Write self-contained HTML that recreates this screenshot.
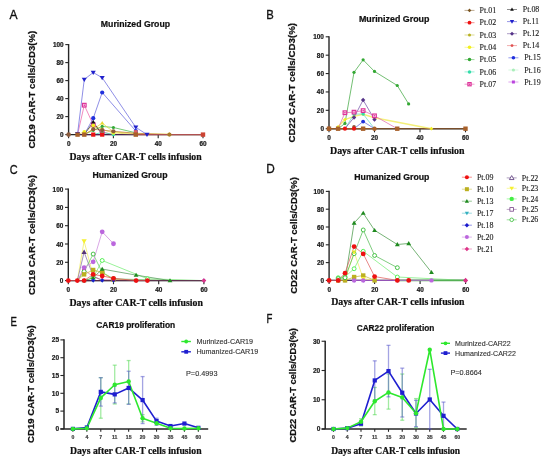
<!DOCTYPE html>
<html><head><meta charset="utf-8"><style>
html,body{margin:0;padding:0;background:#fff;}
svg{display:block;will-change:transform;}
</style></head><body>
<svg width="550" height="464" viewBox="0 0 550 464">
<rect width="550" height="464" fill="#fff"/>
<text transform="translate(9.47 18.80) scale(0.936 1)" font-family='"Liberation Sans", sans-serif' font-size="12.9" fill="#111" stroke="#111" stroke-width="0.32">A</text>
<text x="100.81" y="27.40" font-family='"Liberation Sans", sans-serif' font-size="8.73" font-weight="bold" text-anchor="start" fill="#111" stroke="#111" stroke-width="0.22">Murinized Group</text>
<text x="35.25" y="148.58" font-family='"Liberation Sans", sans-serif' font-size="9.606" font-weight="bold" text-anchor="start" fill="#111" stroke="#111" stroke-width="0.22" transform="rotate(-90 35.24863822805578 148.58424938474158)">CD19 CAR-T cells/CD3(%)</text>
<text x="69.53" y="159.75" font-family='"Liberation Serif", serif' font-size="9.742" font-weight="bold" text-anchor="start" fill="#111" stroke="#111" stroke-width="0.22">Days after CAR-T cells infusion</text>
<line x1="68.60" y1="44.00" x2="68.60" y2="135.20" stroke="#262626" stroke-width="1.4"/>
<line x1="68.00" y1="134.60" x2="203.30" y2="134.60" stroke="#262626" stroke-width="1.4"/>
<line x1="65.30" y1="134.60" x2="68.60" y2="134.60" stroke="#262626" stroke-width="1.1"/>
<text x="63.55" y="137.10" font-family='"Liberation Sans", sans-serif' font-size="6.4" font-weight="bold" text-anchor="end" fill="#1a1a1a" stroke="#1a1a1a" stroke-width="0.22">0</text>
<line x1="65.30" y1="116.60" x2="68.60" y2="116.60" stroke="#262626" stroke-width="1.1"/>
<text x="63.55" y="119.10" font-family='"Liberation Sans", sans-serif' font-size="6.4" font-weight="bold" text-anchor="end" fill="#1a1a1a" stroke="#1a1a1a" stroke-width="0.22">20</text>
<line x1="65.30" y1="98.60" x2="68.60" y2="98.60" stroke="#262626" stroke-width="1.1"/>
<text x="63.55" y="101.10" font-family='"Liberation Sans", sans-serif' font-size="6.4" font-weight="bold" text-anchor="end" fill="#1a1a1a" stroke="#1a1a1a" stroke-width="0.22">40</text>
<line x1="65.30" y1="80.60" x2="68.60" y2="80.60" stroke="#262626" stroke-width="1.1"/>
<text x="63.55" y="83.10" font-family='"Liberation Sans", sans-serif' font-size="6.4" font-weight="bold" text-anchor="end" fill="#1a1a1a" stroke="#1a1a1a" stroke-width="0.22">60</text>
<line x1="65.30" y1="62.60" x2="68.60" y2="62.60" stroke="#262626" stroke-width="1.1"/>
<text x="63.55" y="65.10" font-family='"Liberation Sans", sans-serif' font-size="6.4" font-weight="bold" text-anchor="end" fill="#1a1a1a" stroke="#1a1a1a" stroke-width="0.22">80</text>
<line x1="65.30" y1="44.60" x2="68.60" y2="44.60" stroke="#262626" stroke-width="1.1"/>
<text x="63.55" y="47.10" font-family='"Liberation Sans", sans-serif' font-size="6.4" font-weight="bold" text-anchor="end" fill="#1a1a1a" stroke="#1a1a1a" stroke-width="0.22">100</text>
<line x1="68.60" y1="134.60" x2="68.60" y2="138.20" stroke="#262626" stroke-width="1.1"/>
<text x="68.70" y="146.10" font-family='"Liberation Sans", sans-serif' font-size="6.4" font-weight="bold" text-anchor="middle" fill="#1a1a1a" stroke="#1a1a1a" stroke-width="0.22">0</text>
<line x1="113.40" y1="134.60" x2="113.40" y2="138.20" stroke="#262626" stroke-width="1.1"/>
<text x="113.50" y="146.10" font-family='"Liberation Sans", sans-serif' font-size="6.4" font-weight="bold" text-anchor="middle" fill="#1a1a1a" stroke="#1a1a1a" stroke-width="0.22">20</text>
<line x1="158.20" y1="134.60" x2="158.20" y2="138.20" stroke="#262626" stroke-width="1.1"/>
<text x="158.30" y="146.10" font-family='"Liberation Sans", sans-serif' font-size="6.4" font-weight="bold" text-anchor="middle" fill="#1a1a1a" stroke="#1a1a1a" stroke-width="0.22">40</text>
<line x1="203.00" y1="134.60" x2="203.00" y2="138.20" stroke="#262626" stroke-width="1.1"/>
<text x="203.10" y="146.10" font-family='"Liberation Sans", sans-serif' font-size="6.4" font-weight="bold" text-anchor="middle" fill="#1a1a1a" stroke="#1a1a1a" stroke-width="0.22">60</text>
<polyline points="77.56,134.60 84.28,105.17 93.24,124.70 102.20,131.90 113.40,134.60" fill="none" stroke="#ee66aa" stroke-width="0.75" stroke-opacity="1.0" stroke-linejoin="round"/>
<polyline points="93.24,134.60 102.20,132.35 113.40,134.60" fill="none" stroke="#33ddaa" stroke-width="0.75" stroke-opacity="1.0" stroke-linejoin="round"/>
<polyline points="84.28,134.60 93.24,130.28 102.20,126.41 113.40,127.49 135.80,132.80" fill="none" stroke="#44bb44" stroke-width="0.75" stroke-opacity="1.0" stroke-linejoin="round"/>
<polyline points="77.56,134.60 84.28,131.90 93.24,125.33 102.20,129.56 113.40,132.80 135.80,134.60" fill="none" stroke="#e8d850" stroke-width="0.75" stroke-opacity="1.0" stroke-linejoin="round"/>
<polyline points="84.28,134.60 93.24,129.20 102.20,123.08 113.40,131.90 135.80,133.70 169.40,134.15" fill="none" stroke="#e8d830" stroke-width="0.75" stroke-opacity="1.0" stroke-linejoin="round"/>
<polyline points="84.28,134.60 93.24,129.20 102.20,130.10 113.40,131.27 135.80,133.25 169.40,134.60 203.00,134.60" fill="none" stroke="#c08040" stroke-width="0.75" stroke-opacity="1.0" stroke-linejoin="round"/>
<polyline points="84.28,134.60 93.24,122.00 102.20,134.60" fill="none" stroke="#333" stroke-width="0.75" stroke-opacity="1.0" stroke-linejoin="round"/>
<polyline points="84.28,134.60 93.24,118.22 102.20,92.48 135.80,131.00" fill="none" stroke="#6a6ade" stroke-width="0.75" stroke-opacity="1.0" stroke-linejoin="round"/>
<polyline points="77.56,133.70 84.28,79.43 93.24,72.50 102.20,77.72 135.80,127.31 147.00,134.60" fill="none" stroke="#6a6ade" stroke-width="0.75" stroke-opacity="1.0" stroke-linejoin="round"/>
<polyline points="93.24,134.60 102.20,134.60" fill="none" stroke="#552266" stroke-width="0.75" stroke-opacity="1.0" stroke-linejoin="round"/>
<polyline points="77.56,134.60 84.28,134.60 135.80,134.60" fill="none" stroke="#552266" stroke-width="0.75" stroke-opacity="1.0" stroke-linejoin="round"/>
<polyline points="135.80,134.60 169.40,134.60 203.00,134.60" fill="none" stroke="#b05050" stroke-width="1.1" stroke-opacity="1.0" stroke-linejoin="round"/>
<rect x="82.48" y="103.37" width="3.60" height="3.60" fill="#fff0f7" stroke="#dd3399" stroke-width="1.2"/>
<rect x="83.58" y="104.47" width="1.4" height="1.4" fill="#dd3399"/>
<rect x="91.44" y="122.90" width="3.60" height="3.60" fill="#fff0f7" stroke="#dd3399" stroke-width="1.2"/>
<rect x="92.54" y="124.00" width="1.4" height="1.4" fill="#dd3399"/>
<rect x="100.40" y="130.10" width="3.60" height="3.60" fill="#fff0f7" stroke="#dd3399" stroke-width="1.2"/>
<rect x="101.50" y="131.20" width="1.4" height="1.4" fill="#dd3399"/>
<circle cx="93.24" cy="134.60" r="1.70" fill="#33ddaa"/>
<circle cx="102.20" cy="132.35" r="1.70" fill="#33ddaa"/>
<circle cx="113.40" cy="134.60" r="1.70" fill="#33ddaa"/>
<circle cx="93.24" cy="130.28" r="1.60" fill="#33a833"/>
<circle cx="102.20" cy="126.41" r="1.60" fill="#33a833"/>
<circle cx="113.40" cy="127.49" r="1.60" fill="#33a833"/>
<circle cx="135.80" cy="132.80" r="1.60" fill="#33a833"/>
<circle cx="84.28" cy="131.90" r="1.90" fill="#f2f020"/>
<circle cx="93.24" cy="125.33" r="1.90" fill="#f2f020"/>
<circle cx="102.20" cy="129.56" r="1.90" fill="#f2f020"/>
<circle cx="113.40" cy="132.80" r="1.90" fill="#f2f020"/>
<polygon points="93.24,127.10 95.34,130.70 91.14,130.70" fill="#e8d830"/>
<polygon points="102.20,120.98 104.30,124.58 100.10,124.58" fill="#e8d830"/>
<polygon points="113.40,129.80 115.50,133.40 111.30,133.40" fill="#e8d830"/>
<polygon points="135.80,131.60 137.90,135.20 133.70,135.20" fill="#e8d830"/>
<polygon points="169.40,132.05 171.50,135.65 167.30,135.65" fill="#e8d830"/>
<circle cx="93.24" cy="129.20" r="2.10" fill="#8b5a3c"/>
<circle cx="102.20" cy="130.10" r="2.10" fill="#8b5a3c"/>
<circle cx="113.40" cy="131.27" r="2.10" fill="#8b5a3c"/>
<circle cx="135.80" cy="133.25" r="2.10" fill="#8b5a3c"/>
<polygon points="93.24,119.80 95.44,123.58 91.03,123.58" fill="#111111"/>
<circle cx="93.24" cy="118.22" r="2.10" fill="#2030dd"/>
<circle cx="102.20" cy="92.48" r="2.10" fill="#2030dd"/>
<circle cx="135.80" cy="131.00" r="2.10" fill="#2030dd"/>
<polygon points="77.56,136.22 80.08,131.90 75.04,131.90" fill="#2020cc"/>
<polygon points="84.28,81.95 86.80,77.63 81.76,77.63" fill="#2020cc"/>
<polygon points="93.24,75.02 95.76,70.70 90.72,70.70" fill="#2020cc"/>
<polygon points="102.20,80.24 104.72,75.92 99.68,75.92" fill="#2020cc"/>
<polygon points="135.80,129.83 138.32,125.51 133.28,125.51" fill="#2020cc"/>
<polygon points="147.00,137.12 149.52,132.80 144.48,132.80" fill="#2020cc"/>
<rect x="91.14" y="132.50" width="4.20" height="4.20" fill="#ee1111"/>
<rect x="100.10" y="132.50" width="4.20" height="4.20" fill="#ee1111"/>
<rect x="134.00" y="130.10" width="3.60" height="3.60" fill="#e06060"/>
<rect x="75.36" y="132.40" width="4.40" height="4.40" fill="#a8602a"/>
<rect x="82.08" y="132.40" width="4.40" height="4.40" fill="#a8602a"/>
<rect x="133.60" y="132.40" width="4.40" height="4.40" fill="#a8602a"/>
<circle cx="68.60" cy="134.60" r="2.30" fill="#8b5a3c"/>
<circle cx="169.40" cy="134.60" r="2.10" fill="#a87a2a"/>
<rect x="200.80" y="132.40" width="4.40" height="4.40" fill="#cc4433"/>
<text transform="translate(266.27 18.90) scale(0.873 1)" font-family='"Liberation Sans", sans-serif' font-size="12.9" fill="#111" stroke="#111" stroke-width="0.32">B</text>
<text x="358.90" y="22.10" font-family='"Liberation Sans", sans-serif' font-size="8.883" font-weight="bold" text-anchor="start" fill="#111" stroke="#111" stroke-width="0.22">Murinized Group</text>
<text x="295.00" y="142.49" font-family='"Liberation Sans", sans-serif' font-size="9.746" font-weight="bold" text-anchor="start" fill="#111" stroke="#111" stroke-width="0.22" transform="rotate(-90 294.99870385561934 142.4898277276456)">CD22 CAR-T cells/CD3(%)</text>
<text x="330.03" y="154.25" font-family='"Liberation Serif", serif' font-size="9.919" font-weight="bold" text-anchor="start" fill="#111" stroke="#111" stroke-width="0.22">Days after CAR-T cells infusion</text>
<line x1="329.00" y1="36.20" x2="329.00" y2="129.30" stroke="#262626" stroke-width="1.4"/>
<line x1="328.40" y1="128.70" x2="465.80" y2="128.70" stroke="#262626" stroke-width="1.4"/>
<line x1="325.70" y1="128.70" x2="329.00" y2="128.70" stroke="#262626" stroke-width="1.1"/>
<text x="323.95" y="131.20" font-family='"Liberation Sans", sans-serif' font-size="6.4" font-weight="bold" text-anchor="end" fill="#1a1a1a" stroke="#1a1a1a" stroke-width="0.22">0</text>
<line x1="325.70" y1="110.32" x2="329.00" y2="110.32" stroke="#262626" stroke-width="1.1"/>
<text x="323.95" y="112.82" font-family='"Liberation Sans", sans-serif' font-size="6.4" font-weight="bold" text-anchor="end" fill="#1a1a1a" stroke="#1a1a1a" stroke-width="0.22">20</text>
<line x1="325.70" y1="91.94" x2="329.00" y2="91.94" stroke="#262626" stroke-width="1.1"/>
<text x="323.95" y="94.44" font-family='"Liberation Sans", sans-serif' font-size="6.4" font-weight="bold" text-anchor="end" fill="#1a1a1a" stroke="#1a1a1a" stroke-width="0.22">40</text>
<line x1="325.70" y1="73.56" x2="329.00" y2="73.56" stroke="#262626" stroke-width="1.1"/>
<text x="323.95" y="76.06" font-family='"Liberation Sans", sans-serif' font-size="6.4" font-weight="bold" text-anchor="end" fill="#1a1a1a" stroke="#1a1a1a" stroke-width="0.22">60</text>
<line x1="325.70" y1="55.18" x2="329.00" y2="55.18" stroke="#262626" stroke-width="1.1"/>
<text x="323.95" y="57.68" font-family='"Liberation Sans", sans-serif' font-size="6.4" font-weight="bold" text-anchor="end" fill="#1a1a1a" stroke="#1a1a1a" stroke-width="0.22">80</text>
<line x1="325.70" y1="36.80" x2="329.00" y2="36.80" stroke="#262626" stroke-width="1.1"/>
<text x="323.95" y="39.30" font-family='"Liberation Sans", sans-serif' font-size="6.4" font-weight="bold" text-anchor="end" fill="#1a1a1a" stroke="#1a1a1a" stroke-width="0.22">100</text>
<line x1="329.00" y1="128.70" x2="329.00" y2="132.30" stroke="#262626" stroke-width="1.1"/>
<text x="329.10" y="140.20" font-family='"Liberation Sans", sans-serif' font-size="6.4" font-weight="bold" text-anchor="middle" fill="#1a1a1a" stroke="#1a1a1a" stroke-width="0.22">0</text>
<line x1="374.50" y1="128.70" x2="374.50" y2="132.30" stroke="#262626" stroke-width="1.1"/>
<text x="374.60" y="140.20" font-family='"Liberation Sans", sans-serif' font-size="6.4" font-weight="bold" text-anchor="middle" fill="#1a1a1a" stroke="#1a1a1a" stroke-width="0.22">20</text>
<line x1="420.00" y1="128.70" x2="420.00" y2="132.30" stroke="#262626" stroke-width="1.1"/>
<text x="420.10" y="140.20" font-family='"Liberation Sans", sans-serif' font-size="6.4" font-weight="bold" text-anchor="middle" fill="#1a1a1a" stroke="#1a1a1a" stroke-width="0.22">40</text>
<line x1="465.50" y1="128.70" x2="465.50" y2="132.30" stroke="#262626" stroke-width="1.1"/>
<text x="465.60" y="140.20" font-family='"Liberation Sans", sans-serif' font-size="6.4" font-weight="bold" text-anchor="middle" fill="#1a1a1a" stroke="#1a1a1a" stroke-width="0.22">60</text>
<polyline points="338.10,126.86 344.93,119.60 354.02,116.39 363.12,114.18 374.50,117.67 431.38,128.70" fill="none" stroke="#f4f07a" stroke-width="1.5" stroke-opacity="1.0" stroke-linejoin="round"/>
<polyline points="344.93,128.70 354.02,114.09 363.12,114.00 374.50,128.70" fill="none" stroke="#66ddcc" stroke-width="0.75" stroke-opacity="1.0" stroke-linejoin="round"/>
<polyline points="338.10,128.70 344.93,123.46 354.02,72.37 363.12,59.87 374.50,71.45 397.25,85.51 408.62,103.89" fill="none" stroke="#44aa44" stroke-width="0.75" stroke-opacity="1.0" stroke-linejoin="round"/>
<polyline points="344.93,128.70 354.02,117.49 363.12,100.03 374.50,119.60" fill="none" stroke="#7755aa" stroke-width="0.75" stroke-opacity="1.0" stroke-linejoin="round"/>
<polyline points="338.10,128.70 344.93,112.71 354.02,112.16 363.12,110.60 374.50,115.83 397.25,128.70" fill="none" stroke="#e070b0" stroke-width="0.75" stroke-opacity="1.0" stroke-linejoin="round"/>
<polyline points="354.02,128.70 363.12,121.53 374.50,128.70" fill="none" stroke="#6666dd" stroke-width="0.75" stroke-opacity="1.0" stroke-linejoin="round"/>
<polyline points="344.93,128.70 354.02,128.70" fill="none" stroke="#ee1111" stroke-width="0.75" stroke-opacity="1.0" stroke-linejoin="round"/>
<polyline points="329.00,128.70 338.10,128.70 363.12,128.70 397.25,128.70 465.50,128.70" fill="none" stroke="#b06a30" stroke-width="0.75" stroke-opacity="1.0" stroke-linejoin="round"/>
<polyline points="329.00,128.70 374.50,128.70" fill="none" stroke="#a8602a" stroke-width="0.75" stroke-opacity="1.0" stroke-linejoin="round"/>
<polygon points="338.10,124.99 339.97,126.86 338.10,128.73 336.23,126.86" fill="#f2f020"/>
<polygon points="344.93,117.73 346.80,119.60 344.93,121.47 343.06,119.60" fill="#f2f020"/>
<polygon points="354.02,114.52 355.89,116.39 354.02,118.26 352.15,116.39" fill="#f2f020"/>
<polygon points="363.12,112.31 365.00,114.18 363.12,116.05 361.25,114.18" fill="#f2f020"/>
<polygon points="374.50,115.80 376.37,117.67 374.50,119.54 372.63,117.67" fill="#f2f020"/>
<polygon points="431.38,126.83 433.25,128.70 431.38,130.57 429.50,128.70" fill="#f2f020"/>
<circle cx="354.02" cy="114.09" r="1.70" fill="#33ddaa"/>
<circle cx="363.12" cy="114.00" r="1.70" fill="#33ddaa"/>
<circle cx="344.93" cy="123.46" r="1.60" fill="#33a833"/>
<circle cx="354.02" cy="72.37" r="1.60" fill="#33a833"/>
<circle cx="363.12" cy="59.87" r="1.60" fill="#33a833"/>
<circle cx="374.50" cy="71.45" r="1.60" fill="#33a833"/>
<circle cx="397.25" cy="85.51" r="1.60" fill="#33a833"/>
<circle cx="408.62" cy="103.89" r="1.60" fill="#33a833"/>
<polygon points="354.02,115.29 356.22,117.49 354.02,119.69 351.82,117.49" fill="#553388"/>
<polygon points="363.12,97.83 365.32,100.03 363.12,102.23 360.93,100.03" fill="#553388"/>
<polygon points="374.50,117.40 376.70,119.60 374.50,121.80 372.30,119.60" fill="#553388"/>
<rect x="343.12" y="110.91" width="3.60" height="3.60" fill="#fff0f7" stroke="#dd3399" stroke-width="1.2"/>
<rect x="344.23" y="112.01" width="1.4" height="1.4" fill="#dd3399"/>
<rect x="352.22" y="110.36" width="3.60" height="3.60" fill="#fff0f7" stroke="#dd3399" stroke-width="1.2"/>
<rect x="353.32" y="111.46" width="1.4" height="1.4" fill="#dd3399"/>
<rect x="361.32" y="108.80" width="3.60" height="3.60" fill="#fff0f7" stroke="#dd3399" stroke-width="1.2"/>
<rect x="362.43" y="109.90" width="1.4" height="1.4" fill="#dd3399"/>
<rect x="372.70" y="114.03" width="3.60" height="3.60" fill="#fff0f7" stroke="#dd3399" stroke-width="1.2"/>
<rect x="373.80" y="115.13" width="1.4" height="1.4" fill="#dd3399"/>
<circle cx="363.12" cy="121.53" r="1.90" fill="#2030dd"/>
<circle cx="354.02" cy="126.68" r="1.80" fill="#8b5a3c"/>
<circle cx="344.93" cy="128.70" r="2.10" fill="#ee1111"/>
<circle cx="354.02" cy="128.70" r="2.10" fill="#ee1111"/>
<rect x="326.80" y="126.50" width="4.40" height="4.40" fill="#a8602a"/>
<rect x="335.90" y="126.50" width="4.40" height="4.40" fill="#a8602a"/>
<rect x="360.93" y="126.50" width="4.40" height="4.40" fill="#a8602a"/>
<rect x="395.05" y="126.50" width="4.40" height="4.40" fill="#a8602a"/>
<rect x="463.30" y="126.50" width="4.40" height="4.40" fill="#a8602a"/>
<circle cx="329.00" cy="128.70" r="2.20" fill="#a8602a"/>
<circle cx="374.50" cy="128.70" r="2.20" fill="#a8602a"/>
<line x1="464.50" y1="10.40" x2="474.50" y2="10.40" stroke="#7a5520" stroke-width="0.8" stroke-opacity="0.6"/>
<polygon points="469.50,8.53 471.37,10.40 469.50,12.27 467.63,10.40" fill="#7a5520"/>
<text x="479.60" y="13.00" font-family='"Liberation Serif", serif' font-size="7.95" font-weight="normal" text-anchor="start" fill="#222" stroke="#222" stroke-width="0.12">Pt.01</text>
<line x1="464.50" y1="22.70" x2="474.50" y2="22.70" stroke="#ee1111" stroke-width="0.8" stroke-opacity="0.6"/>
<circle cx="469.50" cy="22.70" r="1.90" fill="#ee1111"/>
<text x="479.60" y="25.30" font-family='"Liberation Serif", serif' font-size="7.95" font-weight="normal" text-anchor="start" fill="#222" stroke="#222" stroke-width="0.12">Pt.02</text>
<line x1="464.50" y1="35.00" x2="474.50" y2="35.00" stroke="#b8b020" stroke-width="0.8" stroke-opacity="0.6"/>
<circle cx="469.50" cy="35.00" r="1.50" fill="#b8b020"/>
<text x="479.60" y="37.60" font-family='"Liberation Serif", serif' font-size="7.95" font-weight="normal" text-anchor="start" fill="#222" stroke="#222" stroke-width="0.12">Pt.03</text>
<line x1="464.50" y1="47.30" x2="474.50" y2="47.30" stroke="#f2f020" stroke-width="0.8" stroke-opacity="0.6"/>
<circle cx="469.50" cy="47.30" r="1.75" fill="#f2f020"/>
<text x="479.60" y="49.90" font-family='"Liberation Serif", serif' font-size="7.95" font-weight="normal" text-anchor="start" fill="#222" stroke="#222" stroke-width="0.12">Pt.04</text>
<line x1="464.50" y1="59.60" x2="474.50" y2="59.60" stroke="#33a833" stroke-width="0.8" stroke-opacity="0.6"/>
<circle cx="469.50" cy="59.60" r="1.75" fill="#33a833"/>
<text x="479.60" y="62.20" font-family='"Liberation Serif", serif' font-size="7.95" font-weight="normal" text-anchor="start" fill="#222" stroke="#222" stroke-width="0.12">Pt.05</text>
<line x1="464.50" y1="71.90" x2="474.50" y2="71.90" stroke="#33ddaa" stroke-width="0.8" stroke-opacity="0.6"/>
<circle cx="469.50" cy="71.90" r="1.75" fill="#33ddaa"/>
<text x="479.60" y="74.50" font-family='"Liberation Serif", serif' font-size="7.95" font-weight="normal" text-anchor="start" fill="#222" stroke="#222" stroke-width="0.12">Pt.06</text>
<line x1="464.50" y1="84.20" x2="474.50" y2="84.20" stroke="#dd3399" stroke-width="0.8" stroke-opacity="0.6"/>
<rect x="467.90" y="82.60" width="3.20" height="3.20" fill="#fff0f7" stroke="#dd3399" stroke-width="1.2"/>
<rect x="468.80" y="83.50" width="1.4" height="1.4" fill="#dd3399"/>
<text x="479.60" y="86.80" font-family='"Liberation Serif", serif' font-size="7.95" font-weight="normal" text-anchor="start" fill="#222" stroke="#222" stroke-width="0.12">Pt.07</text>
<line x1="507.00" y1="9.50" x2="517.00" y2="9.50" stroke="#111111" stroke-width="0.8" stroke-opacity="0.6"/>
<polygon points="512.00,7.61 513.89,10.85 510.11,10.85" fill="#111111"/>
<text x="522.80" y="12.10" font-family='"Liberation Serif", serif' font-size="7.95" font-weight="normal" text-anchor="start" fill="#222" stroke="#222" stroke-width="0.12">Pt.08</text>
<line x1="507.00" y1="21.60" x2="517.00" y2="21.60" stroke="#2020cc" stroke-width="0.8" stroke-opacity="0.6"/>
<polygon points="512.00,23.80 514.21,20.03 509.80,20.03" fill="#2020cc"/>
<text x="522.80" y="24.20" font-family='"Liberation Serif", serif' font-size="7.95" font-weight="normal" text-anchor="start" fill="#222" stroke="#222" stroke-width="0.12">Pt.11</text>
<line x1="507.00" y1="33.70" x2="517.00" y2="33.70" stroke="#553388" stroke-width="0.8" stroke-opacity="0.6"/>
<polygon points="512.00,31.72 513.98,33.70 512.00,35.68 510.02,33.70" fill="#553388"/>
<text x="522.80" y="36.30" font-family='"Liberation Serif", serif' font-size="7.95" font-weight="normal" text-anchor="start" fill="#222" stroke="#222" stroke-width="0.12">Pt.12</text>
<line x1="507.00" y1="45.60" x2="517.00" y2="45.60" stroke="#e05050" stroke-width="0.8" stroke-opacity="0.6"/>
<circle cx="512.00" cy="45.60" r="1.40" fill="#e05050"/>
<text x="522.80" y="48.20" font-family='"Liberation Serif", serif' font-size="7.95" font-weight="normal" text-anchor="start" fill="#222" stroke="#222" stroke-width="0.12">Pt.14</text>
<line x1="508.40" y1="57.80" x2="518.40" y2="57.80" stroke="#2030dd" stroke-width="0.8" stroke-opacity="0.6"/>
<circle cx="513.40" cy="57.80" r="1.80" fill="#2030dd"/>
<text x="524.20" y="60.40" font-family='"Liberation Serif", serif' font-size="7.95" font-weight="normal" text-anchor="start" fill="#222" stroke="#222" stroke-width="0.12">Pt.15</text>
<line x1="508.40" y1="70.00" x2="518.40" y2="70.00" stroke="#aaeebb" stroke-width="0.8" stroke-opacity="0.6"/>
<circle cx="513.40" cy="70.00" r="1.60" fill="#aaeebb"/>
<text x="524.20" y="72.60" font-family='"Liberation Serif", serif' font-size="7.95" font-weight="normal" text-anchor="start" fill="#222" stroke="#222" stroke-width="0.12">Pt.16</text>
<line x1="508.40" y1="82.00" x2="518.40" y2="82.00" stroke="#bb44dd" stroke-width="0.8" stroke-opacity="0.6"/>
<rect x="511.90" y="80.50" width="3.00" height="3.00" fill="#bb44dd"/>
<text x="524.20" y="84.60" font-family='"Liberation Serif", serif' font-size="7.95" font-weight="normal" text-anchor="start" fill="#222" stroke="#222" stroke-width="0.12">Pt.19</text>
<text transform="translate(9.85 174.20) scale(0.846 1)" font-family='"Liberation Sans", sans-serif' font-size="12.9" fill="#111" stroke="#111" stroke-width="0.32">C</text>
<text x="92.41" y="178.10" font-family='"Liberation Sans", sans-serif' font-size="8.739" font-weight="bold" text-anchor="start" fill="#111" stroke="#111" stroke-width="0.22">Humanized Group</text>
<text x="34.61" y="294.89" font-family='"Liberation Sans", sans-serif' font-size="9.77" font-weight="bold" text-anchor="start" fill="#111" stroke="#111" stroke-width="0.22" transform="rotate(-90 34.60753896636587 294.8908121410993)">CD19 CAR-T cells/CD3(%)</text>
<text x="69.53" y="305.85" font-family='"Liberation Serif", serif' font-size="9.838" font-weight="bold" text-anchor="start" fill="#111" stroke="#111" stroke-width="0.22">Days after CAR-T cells infusion</text>
<line x1="68.30" y1="188.50" x2="68.30" y2="281.20" stroke="#262626" stroke-width="1.4"/>
<line x1="67.70" y1="280.60" x2="204.20" y2="280.60" stroke="#262626" stroke-width="1.4"/>
<line x1="65.00" y1="280.60" x2="68.30" y2="280.60" stroke="#262626" stroke-width="1.1"/>
<text x="63.25" y="283.10" font-family='"Liberation Sans", sans-serif' font-size="6.4" font-weight="bold" text-anchor="end" fill="#1a1a1a" stroke="#1a1a1a" stroke-width="0.22">0</text>
<line x1="65.00" y1="262.30" x2="68.30" y2="262.30" stroke="#262626" stroke-width="1.1"/>
<text x="63.25" y="264.80" font-family='"Liberation Sans", sans-serif' font-size="6.4" font-weight="bold" text-anchor="end" fill="#1a1a1a" stroke="#1a1a1a" stroke-width="0.22">20</text>
<line x1="65.00" y1="244.00" x2="68.30" y2="244.00" stroke="#262626" stroke-width="1.1"/>
<text x="63.25" y="246.50" font-family='"Liberation Sans", sans-serif' font-size="6.4" font-weight="bold" text-anchor="end" fill="#1a1a1a" stroke="#1a1a1a" stroke-width="0.22">40</text>
<line x1="65.00" y1="225.70" x2="68.30" y2="225.70" stroke="#262626" stroke-width="1.1"/>
<text x="63.25" y="228.20" font-family='"Liberation Sans", sans-serif' font-size="6.4" font-weight="bold" text-anchor="end" fill="#1a1a1a" stroke="#1a1a1a" stroke-width="0.22">60</text>
<line x1="65.00" y1="207.40" x2="68.30" y2="207.40" stroke="#262626" stroke-width="1.1"/>
<text x="63.25" y="209.90" font-family='"Liberation Sans", sans-serif' font-size="6.4" font-weight="bold" text-anchor="end" fill="#1a1a1a" stroke="#1a1a1a" stroke-width="0.22">80</text>
<line x1="65.00" y1="189.10" x2="68.30" y2="189.10" stroke="#262626" stroke-width="1.1"/>
<text x="63.25" y="191.60" font-family='"Liberation Sans", sans-serif' font-size="6.4" font-weight="bold" text-anchor="end" fill="#1a1a1a" stroke="#1a1a1a" stroke-width="0.22">100</text>
<line x1="68.30" y1="280.60" x2="68.30" y2="284.20" stroke="#262626" stroke-width="1.1"/>
<text x="68.40" y="292.10" font-family='"Liberation Sans", sans-serif' font-size="6.4" font-weight="bold" text-anchor="middle" fill="#1a1a1a" stroke="#1a1a1a" stroke-width="0.22">0</text>
<line x1="113.50" y1="280.60" x2="113.50" y2="284.20" stroke="#262626" stroke-width="1.1"/>
<text x="113.60" y="292.10" font-family='"Liberation Sans", sans-serif' font-size="6.4" font-weight="bold" text-anchor="middle" fill="#1a1a1a" stroke="#1a1a1a" stroke-width="0.22">20</text>
<line x1="158.70" y1="280.60" x2="158.70" y2="284.20" stroke="#262626" stroke-width="1.1"/>
<text x="158.80" y="292.10" font-family='"Liberation Sans", sans-serif' font-size="6.4" font-weight="bold" text-anchor="middle" fill="#1a1a1a" stroke="#1a1a1a" stroke-width="0.22">40</text>
<line x1="203.90" y1="280.60" x2="203.90" y2="284.20" stroke="#262626" stroke-width="1.1"/>
<text x="204.00" y="292.10" font-family='"Liberation Sans", sans-serif' font-size="6.4" font-weight="bold" text-anchor="middle" fill="#1a1a1a" stroke="#1a1a1a" stroke-width="0.22">60</text>
<polyline points="77.34,280.60 84.12,241.07 93.16,276.03 102.20,280.60" fill="none" stroke="#f0ee60" stroke-width="0.75" stroke-opacity="1.0" stroke-linejoin="round"/>
<polyline points="77.34,280.60 84.12,269.62 93.16,276.94 102.20,279.69 203.90,280.60" fill="none" stroke="#e070a8" stroke-width="0.75" stroke-opacity="1.0" stroke-linejoin="round"/>
<polyline points="77.34,280.60 84.12,252.14 93.16,276.03 102.20,280.60" fill="none" stroke="#8a70a8" stroke-width="0.75" stroke-opacity="1.0" stroke-linejoin="round"/>
<polyline points="84.12,280.60 93.16,277.86 102.20,260.47 147.40,278.77 203.90,280.60" fill="none" stroke="#77ee77" stroke-width="0.75" stroke-opacity="1.0" stroke-linejoin="round"/>
<polyline points="77.34,280.60 84.12,271.54 93.16,254.07 102.20,272.37 113.50,278.77 170.00,280.60" fill="none" stroke="#66cc66" stroke-width="0.75" stroke-opacity="1.0" stroke-linejoin="round"/>
<polyline points="77.34,280.60 84.12,274.38 93.16,269.99 102.20,272.46 113.50,279.69 136.10,280.60" fill="none" stroke="#c8b840" stroke-width="0.75" stroke-opacity="1.0" stroke-linejoin="round"/>
<polyline points="84.12,280.60 93.16,277.86 102.20,269.07 136.10,275.11 170.00,280.60" fill="none" stroke="#55995a" stroke-width="0.75" stroke-opacity="1.0" stroke-linejoin="round"/>
<polyline points="77.34,280.60 84.12,267.61 93.16,261.84 102.20,231.83 113.50,243.73" fill="none" stroke="#cc88dd" stroke-width="0.75" stroke-opacity="1.0" stroke-linejoin="round"/>
<polyline points="84.12,280.60 93.16,280.60 102.20,280.60 113.50,280.60" fill="none" stroke="#333366" stroke-width="0.75" stroke-opacity="1.0" stroke-linejoin="round"/>
<polyline points="68.30,280.60 77.34,280.60 84.12,280.60 93.16,280.60 102.20,280.60 113.50,280.60 136.10,280.60 203.90,280.60" fill="none" stroke="#5a2a4a" stroke-width="1.0" stroke-opacity="1.0" stroke-linejoin="round"/>
<polyline points="68.30,280.60 77.34,280.60 84.12,280.60 93.16,274.38 102.20,275.93 113.50,278.31 136.10,280.60 147.40,280.60" fill="none" stroke="#e05050" stroke-width="0.75" stroke-opacity="1.0" stroke-linejoin="round"/>
<polygon points="84.12,243.70 86.74,239.20 81.49,239.20" fill="#f5f030"/>
<polygon points="93.16,278.65 95.78,274.15 90.53,274.15" fill="#f5f030"/>
<polygon points="84.12,267.42 86.32,269.62 84.12,271.82 81.92,269.62" fill="#dd3388"/>
<polygon points="93.16,274.74 95.36,276.94 93.16,279.14 90.96,276.94" fill="#dd3388"/>
<polygon points="102.20,277.49 104.40,279.69 102.20,281.88 100.00,279.69" fill="#dd3388"/>
<polygon points="84.12,249.52 86.74,254.02 81.49,254.02" fill="#553377"/>
<polygon points="93.16,273.40 95.78,277.90 90.53,277.90" fill="#553377"/>
<circle cx="93.16" cy="277.86" r="1.95" fill="white" stroke="#44ee44" stroke-width="0.9"/>
<circle cx="102.20" cy="260.47" r="1.95" fill="white" stroke="#44ee44" stroke-width="0.9"/>
<circle cx="147.40" cy="278.77" r="1.95" fill="white" stroke="#44ee44" stroke-width="0.9"/>
<circle cx="84.12" cy="271.54" r="1.95" fill="white" stroke="#33bb33" stroke-width="0.9"/>
<circle cx="93.16" cy="254.07" r="1.95" fill="white" stroke="#33bb33" stroke-width="0.9"/>
<circle cx="102.20" cy="272.37" r="1.95" fill="white" stroke="#33bb33" stroke-width="0.9"/>
<circle cx="113.50" cy="278.77" r="1.95" fill="white" stroke="#33bb33" stroke-width="0.9"/>
<rect x="81.92" y="272.18" width="4.40" height="4.40" fill="#bcb020"/>
<rect x="90.96" y="267.79" width="4.40" height="4.40" fill="#bcb020"/>
<rect x="100.00" y="270.26" width="4.40" height="4.40" fill="#bcb020"/>
<rect x="111.30" y="277.49" width="4.40" height="4.40" fill="#bcb020"/>
<polygon points="84.12,278.19 86.53,282.33 81.70,282.33" fill="#1f8a1f"/>
<polygon points="93.16,275.44 95.58,279.58 90.74,279.58" fill="#1f8a1f"/>
<polygon points="102.20,266.66 104.61,270.80 99.78,270.80" fill="#1f8a1f"/>
<polygon points="136.10,272.69 138.51,276.84 133.69,276.84" fill="#1f8a1f"/>
<polygon points="170.00,278.19 172.41,282.33 167.59,282.33" fill="#1f8a1f"/>
<circle cx="84.12" cy="267.61" r="2.40" fill="#bb66dd"/>
<circle cx="93.16" cy="261.84" r="2.40" fill="#bb66dd"/>
<circle cx="102.20" cy="231.83" r="2.40" fill="#bb66dd"/>
<circle cx="113.50" cy="243.73" r="2.40" fill="#bb66dd"/>
<polygon points="84.12,282.81 86.32,279.03 81.91,279.03" fill="#33b0c0"/>
<polygon points="93.16,282.81 95.36,279.03 90.95,279.03" fill="#33b0c0"/>
<polygon points="102.20,282.81 104.40,279.03 99.99,279.03" fill="#33b0c0"/>
<polygon points="113.50,282.81 115.70,279.03 111.30,279.03" fill="#33b0c0"/>
<polygon points="68.30,278.62 70.28,280.60 68.30,282.58 66.32,280.60" fill="#1a1acc"/>
<polygon points="77.34,278.62 79.32,280.60 77.34,282.58 75.36,280.60" fill="#1a1acc"/>
<polygon points="84.12,278.62 86.10,280.60 84.12,282.58 82.14,280.60" fill="#1a1acc"/>
<polygon points="93.16,278.62 95.14,280.60 93.16,282.58 91.18,280.60" fill="#1a1acc"/>
<polygon points="102.20,278.62 104.18,280.60 102.20,282.58 100.22,280.60" fill="#1a1acc"/>
<polygon points="113.50,278.62 115.48,280.60 113.50,282.58 111.52,280.60" fill="#1a1acc"/>
<polygon points="136.10,278.62 138.08,280.60 136.10,282.58 134.12,280.60" fill="#1a1acc"/>
<polygon points="203.90,278.62 205.88,280.60 203.90,282.58 201.92,280.60" fill="#1a1acc"/>
<circle cx="68.30" cy="280.60" r="2.40" fill="#ee1111"/>
<circle cx="77.34" cy="280.60" r="2.40" fill="#ee1111"/>
<circle cx="84.12" cy="280.60" r="2.40" fill="#ee1111"/>
<circle cx="93.16" cy="274.38" r="2.40" fill="#ee1111"/>
<circle cx="102.20" cy="275.93" r="2.40" fill="#ee1111"/>
<circle cx="113.50" cy="278.31" r="2.40" fill="#ee1111"/>
<circle cx="136.10" cy="280.60" r="2.40" fill="#ee1111"/>
<circle cx="147.40" cy="280.60" r="2.40" fill="#ee1111"/>
<polygon points="203.90,278.18 206.32,280.60 203.90,283.02 201.48,280.60" fill="#dd3388"/>
<text transform="translate(266.13 173.00) scale(0.916 1)" font-family='"Liberation Sans", sans-serif' font-size="12.9" fill="#111" stroke="#111" stroke-width="0.32">D</text>
<text x="354.31" y="179.60" font-family='"Liberation Sans", sans-serif' font-size="8.727" font-weight="bold" text-anchor="start" fill="#111" stroke="#111" stroke-width="0.22">Humanized Group</text>
<text x="296.67" y="293.78" font-family='"Liberation Sans", sans-serif' font-size="9.516" font-weight="bold" text-anchor="start" fill="#111" stroke="#111" stroke-width="0.22" transform="rotate(-90 296.66624282198524 293.7806398687449)">CD22 CAR-T cells/CD3(%)</text>
<text x="331.13" y="304.75" font-family='"Liberation Serif", serif' font-size="9.83" font-weight="bold" text-anchor="start" fill="#111" stroke="#111" stroke-width="0.22">Days after CAR-T cells infusion</text>
<line x1="329.10" y1="190.80" x2="329.10" y2="281.00" stroke="#262626" stroke-width="1.4"/>
<line x1="328.50" y1="280.40" x2="465.90" y2="280.40" stroke="#262626" stroke-width="1.4"/>
<line x1="325.80" y1="280.40" x2="329.10" y2="280.40" stroke="#262626" stroke-width="1.1"/>
<text x="324.05" y="282.90" font-family='"Liberation Sans", sans-serif' font-size="6.4" font-weight="bold" text-anchor="end" fill="#1a1a1a" stroke="#1a1a1a" stroke-width="0.22">0</text>
<line x1="325.80" y1="262.60" x2="329.10" y2="262.60" stroke="#262626" stroke-width="1.1"/>
<text x="324.05" y="265.10" font-family='"Liberation Sans", sans-serif' font-size="6.4" font-weight="bold" text-anchor="end" fill="#1a1a1a" stroke="#1a1a1a" stroke-width="0.22">20</text>
<line x1="325.80" y1="244.80" x2="329.10" y2="244.80" stroke="#262626" stroke-width="1.1"/>
<text x="324.05" y="247.30" font-family='"Liberation Sans", sans-serif' font-size="6.4" font-weight="bold" text-anchor="end" fill="#1a1a1a" stroke="#1a1a1a" stroke-width="0.22">40</text>
<line x1="325.80" y1="227.00" x2="329.10" y2="227.00" stroke="#262626" stroke-width="1.1"/>
<text x="324.05" y="229.50" font-family='"Liberation Sans", sans-serif' font-size="6.4" font-weight="bold" text-anchor="end" fill="#1a1a1a" stroke="#1a1a1a" stroke-width="0.22">60</text>
<line x1="325.80" y1="209.20" x2="329.10" y2="209.20" stroke="#262626" stroke-width="1.1"/>
<text x="324.05" y="211.70" font-family='"Liberation Sans", sans-serif' font-size="6.4" font-weight="bold" text-anchor="end" fill="#1a1a1a" stroke="#1a1a1a" stroke-width="0.22">80</text>
<line x1="325.80" y1="191.40" x2="329.10" y2="191.40" stroke="#262626" stroke-width="1.1"/>
<text x="324.05" y="193.90" font-family='"Liberation Sans", sans-serif' font-size="6.4" font-weight="bold" text-anchor="end" fill="#1a1a1a" stroke="#1a1a1a" stroke-width="0.22">100</text>
<line x1="329.10" y1="280.40" x2="329.10" y2="284.00" stroke="#262626" stroke-width="1.1"/>
<text x="329.20" y="291.90" font-family='"Liberation Sans", sans-serif' font-size="6.4" font-weight="bold" text-anchor="middle" fill="#1a1a1a" stroke="#1a1a1a" stroke-width="0.22">0</text>
<line x1="374.60" y1="280.40" x2="374.60" y2="284.00" stroke="#262626" stroke-width="1.1"/>
<text x="374.70" y="291.90" font-family='"Liberation Sans", sans-serif' font-size="6.4" font-weight="bold" text-anchor="middle" fill="#1a1a1a" stroke="#1a1a1a" stroke-width="0.22">20</text>
<line x1="420.10" y1="280.40" x2="420.10" y2="284.00" stroke="#262626" stroke-width="1.1"/>
<text x="420.20" y="291.90" font-family='"Liberation Sans", sans-serif' font-size="6.4" font-weight="bold" text-anchor="middle" fill="#1a1a1a" stroke="#1a1a1a" stroke-width="0.22">40</text>
<line x1="465.60" y1="280.40" x2="465.60" y2="284.00" stroke="#262626" stroke-width="1.1"/>
<text x="465.70" y="291.90" font-family='"Liberation Sans", sans-serif' font-size="6.4" font-weight="bold" text-anchor="middle" fill="#1a1a1a" stroke="#1a1a1a" stroke-width="0.22">60</text>
<polyline points="329.10,280.40 338.20,280.40 345.03,280.40 354.12,280.40 363.23,280.40 374.60,280.40 397.35,280.40 465.60,280.40" fill="none" stroke="#5a3a8a" stroke-width="0.75" stroke-opacity="1.0" stroke-linejoin="round"/>
<polyline points="338.20,280.40 345.03,280.40 354.12,277.02 363.23,275.50 374.60,280.40" fill="none" stroke="#c8b840" stroke-width="0.75" stroke-opacity="1.0" stroke-linejoin="round"/>
<polyline points="345.03,280.40 354.12,252.19 363.23,278.62 374.60,280.40" fill="none" stroke="#f0ee60" stroke-width="0.75" stroke-opacity="1.0" stroke-linejoin="round"/>
<polyline points="338.20,277.73 345.03,276.84 354.12,268.74 363.23,251.30 397.35,277.02 465.60,280.40" fill="none" stroke="#77ee77" stroke-width="0.75" stroke-opacity="1.0" stroke-linejoin="round"/>
<polyline points="338.20,278.62 345.03,277.73 354.12,253.70 363.23,229.94 374.60,255.48 397.35,267.67" fill="none" stroke="#55bb55" stroke-width="0.75" stroke-opacity="1.0" stroke-linejoin="round"/>
<polyline points="345.03,280.40 354.12,222.99 363.23,213.12 374.60,230.29 397.35,244.53 408.73,243.46 431.48,272.30" fill="none" stroke="#4a9a4a" stroke-width="0.75" stroke-opacity="1.0" stroke-linejoin="round"/>
<polyline points="329.10,280.40 338.20,280.40 345.03,273.19 354.12,246.58 363.23,253.79 374.60,276.57 397.35,280.40 408.73,280.40" fill="none" stroke="#e06060" stroke-width="0.75" stroke-opacity="1.0" stroke-linejoin="round"/>
<polyline points="397.35,280.40 465.60,280.40" fill="none" stroke="#55b055" stroke-width="1.5" stroke-opacity="1.0" stroke-linejoin="round"/>
<polyline points="354.12,280.40 363.23,280.40 431.48,280.40" fill="none" stroke="#bb66dd" stroke-width="0.75" stroke-opacity="1.0" stroke-linejoin="round"/>
<polygon points="329.10,278.42 331.08,280.40 329.10,282.38 327.12,280.40" fill="#1a1acc"/>
<polygon points="338.20,278.42 340.18,280.40 338.20,282.38 336.22,280.40" fill="#1a1acc"/>
<polygon points="345.03,278.42 347.01,280.40 345.03,282.38 343.05,280.40" fill="#1a1acc"/>
<polygon points="354.12,278.42 356.11,280.40 354.12,282.38 352.14,280.40" fill="#1a1acc"/>
<polygon points="363.23,278.42 365.21,280.40 363.23,282.38 361.25,280.40" fill="#1a1acc"/>
<polygon points="374.60,278.42 376.58,280.40 374.60,282.38 372.62,280.40" fill="#1a1acc"/>
<polygon points="397.35,278.42 399.33,280.40 397.35,282.38 395.37,280.40" fill="#1a1acc"/>
<polygon points="465.60,278.42 467.58,280.40 465.60,282.38 463.62,280.40" fill="#1a1acc"/>
<rect x="336.00" y="278.20" width="4.40" height="4.40" fill="#bcb020"/>
<rect x="342.83" y="278.20" width="4.40" height="4.40" fill="#bcb020"/>
<rect x="351.93" y="274.82" width="4.40" height="4.40" fill="#bcb020"/>
<rect x="361.03" y="273.31" width="4.40" height="4.40" fill="#bcb020"/>
<rect x="372.40" y="278.20" width="4.40" height="4.40" fill="#bcb020"/>
<polygon points="354.12,254.60 356.54,250.46 351.71,250.46" fill="#f5f030"/>
<polygon points="363.23,281.04 365.64,276.89 360.81,276.89" fill="#f5f030"/>
<circle cx="338.20" cy="277.73" r="1.95" fill="white" stroke="#44ee44" stroke-width="0.9"/>
<circle cx="345.03" cy="276.84" r="1.95" fill="white" stroke="#44ee44" stroke-width="0.9"/>
<circle cx="354.12" cy="268.74" r="1.95" fill="white" stroke="#44ee44" stroke-width="0.9"/>
<circle cx="363.23" cy="251.30" r="1.95" fill="white" stroke="#44ee44" stroke-width="0.9"/>
<circle cx="397.35" cy="277.02" r="1.95" fill="white" stroke="#44ee44" stroke-width="0.9"/>
<circle cx="338.20" cy="278.62" r="1.95" fill="white" stroke="#33bb33" stroke-width="0.9"/>
<circle cx="345.03" cy="277.73" r="1.95" fill="white" stroke="#33bb33" stroke-width="0.9"/>
<circle cx="354.12" cy="253.70" r="1.95" fill="white" stroke="#33bb33" stroke-width="0.9"/>
<circle cx="363.23" cy="229.94" r="1.95" fill="white" stroke="#33bb33" stroke-width="0.9"/>
<circle cx="374.60" cy="255.48" r="1.95" fill="white" stroke="#33bb33" stroke-width="0.9"/>
<circle cx="397.35" cy="267.67" r="1.95" fill="white" stroke="#33bb33" stroke-width="0.9"/>
<circle cx="354.12" cy="252.63" r="1.30" fill="#f5f030"/>
<polygon points="354.12,220.58 356.54,224.72 351.71,224.72" fill="#1f8a1f"/>
<polygon points="363.23,210.70 365.64,214.84 360.81,214.84" fill="#1f8a1f"/>
<polygon points="374.60,227.88 377.02,232.02 372.19,232.02" fill="#1f8a1f"/>
<polygon points="397.35,242.12 399.77,246.26 394.94,246.26" fill="#1f8a1f"/>
<polygon points="408.73,241.05 411.14,245.19 406.31,245.19" fill="#1f8a1f"/>
<polygon points="431.48,269.89 433.89,274.03 429.06,274.03" fill="#1f8a1f"/>
<circle cx="329.10" cy="280.40" r="2.40" fill="#ee1111"/>
<circle cx="338.20" cy="280.40" r="2.40" fill="#ee1111"/>
<circle cx="345.03" cy="273.19" r="2.40" fill="#ee1111"/>
<circle cx="354.12" cy="246.58" r="2.40" fill="#ee1111"/>
<circle cx="363.23" cy="253.79" r="2.40" fill="#ee1111"/>
<circle cx="374.60" cy="276.57" r="2.40" fill="#ee1111"/>
<circle cx="397.35" cy="280.40" r="2.40" fill="#ee1111"/>
<circle cx="408.73" cy="280.40" r="2.40" fill="#ee1111"/>
<circle cx="354.12" cy="280.40" r="2.20" fill="#bb66dd"/>
<circle cx="363.23" cy="280.40" r="2.20" fill="#bb66dd"/>
<circle cx="431.48" cy="280.40" r="2.20" fill="#bb66dd"/>
<polygon points="465.60,277.87 468.13,280.40 465.60,282.93 463.07,280.40" fill="#dd3388"/>
<line x1="461.90" y1="177.20" x2="471.90" y2="177.20" stroke="#ee1111" stroke-width="0.8" stroke-opacity="0.6"/>
<circle cx="466.90" cy="177.20" r="2.00" fill="#ee1111"/>
<text x="476.90" y="179.80" font-family='"Liberation Serif", serif' font-size="7.95" font-weight="normal" text-anchor="start" fill="#222" stroke="#222" stroke-width="0.12">Pt.09</text>
<line x1="461.90" y1="189.20" x2="471.90" y2="189.20" stroke="#bcb020" stroke-width="0.8" stroke-opacity="0.6"/>
<rect x="464.90" y="187.20" width="4.00" height="4.00" fill="#bcb020"/>
<text x="476.90" y="191.80" font-family='"Liberation Serif", serif' font-size="7.95" font-weight="normal" text-anchor="start" fill="#222" stroke="#222" stroke-width="0.12">Pt.10</text>
<line x1="461.90" y1="201.20" x2="471.90" y2="201.20" stroke="#1f8a1f" stroke-width="0.8" stroke-opacity="0.6"/>
<polygon points="466.90,199.10 469.00,202.70 464.80,202.70" fill="#1f8a1f"/>
<text x="476.90" y="203.80" font-family='"Liberation Serif", serif' font-size="7.95" font-weight="normal" text-anchor="start" fill="#222" stroke="#222" stroke-width="0.12">Pt.13</text>
<line x1="461.90" y1="213.20" x2="471.90" y2="213.20" stroke="#33b0c0" stroke-width="0.8" stroke-opacity="0.6"/>
<polygon points="466.90,215.30 469.00,211.70 464.80,211.70" fill="#33b0c0"/>
<text x="476.90" y="215.80" font-family='"Liberation Serif", serif' font-size="7.95" font-weight="normal" text-anchor="start" fill="#222" stroke="#222" stroke-width="0.12">Pt.17</text>
<line x1="461.90" y1="225.20" x2="471.90" y2="225.20" stroke="#1a1acc" stroke-width="0.8" stroke-opacity="0.6"/>
<polygon points="466.90,223.00 469.10,225.20 466.90,227.40 464.70,225.20" fill="#1a1acc"/>
<text x="476.90" y="227.80" font-family='"Liberation Serif", serif' font-size="7.95" font-weight="normal" text-anchor="start" fill="#222" stroke="#222" stroke-width="0.12">Pt.18</text>
<line x1="461.90" y1="237.10" x2="471.90" y2="237.10" stroke="#bb66dd" stroke-width="0.8" stroke-opacity="0.6"/>
<circle cx="466.90" cy="237.10" r="2.00" fill="#bb66dd"/>
<text x="476.90" y="239.70" font-family='"Liberation Serif", serif' font-size="7.95" font-weight="normal" text-anchor="start" fill="#222" stroke="#222" stroke-width="0.12">Pt.20</text>
<line x1="461.90" y1="249.00" x2="471.90" y2="249.00" stroke="#dd3388" stroke-width="0.8" stroke-opacity="0.6"/>
<polygon points="466.90,246.80 469.10,249.00 466.90,251.20 464.70,249.00" fill="#dd3388"/>
<text x="476.90" y="251.60" font-family='"Liberation Serif", serif' font-size="7.95" font-weight="normal" text-anchor="start" fill="#222" stroke="#222" stroke-width="0.12">Pt.21</text>
<line x1="506.70" y1="177.90" x2="516.70" y2="177.90" stroke="#553377" stroke-width="0.8" stroke-opacity="0.6"/>
<polygon points="511.70,175.59 514.01,179.55 509.39,179.55" fill="white" stroke="#553377" stroke-width="0.8"/>
<text x="521.80" y="180.50" font-family='"Liberation Serif", serif' font-size="7.95" font-weight="normal" text-anchor="start" fill="#222" stroke="#222" stroke-width="0.12">Pt.22</text>
<line x1="506.70" y1="188.30" x2="516.70" y2="188.30" stroke="#f5f030" stroke-width="0.8" stroke-opacity="0.6"/>
<polygon points="511.70,190.61 514.01,186.65 509.39,186.65" fill="#f5f030"/>
<text x="521.80" y="190.90" font-family='"Liberation Serif", serif' font-size="7.95" font-weight="normal" text-anchor="start" fill="#222" stroke="#222" stroke-width="0.12">Pt.23</text>
<line x1="506.70" y1="198.90" x2="516.70" y2="198.90" stroke="#44ee44" stroke-width="0.8" stroke-opacity="0.6"/>
<circle cx="511.70" cy="198.90" r="2.20" fill="#44ee44"/>
<text x="521.80" y="201.50" font-family='"Liberation Serif", serif' font-size="7.95" font-weight="normal" text-anchor="start" fill="#222" stroke="#222" stroke-width="0.12">Pt.24</text>
<line x1="506.70" y1="209.40" x2="516.70" y2="209.40" stroke="#774488" stroke-width="0.8" stroke-opacity="0.6"/>
<rect x="509.90" y="207.60" width="3.60" height="3.60" fill="white" stroke="#774488" stroke-width="0.8"/>
<text x="521.80" y="212.00" font-family='"Liberation Serif", serif' font-size="7.95" font-weight="normal" text-anchor="start" fill="#222" stroke="#222" stroke-width="0.12">Pt.25</text>
<line x1="506.70" y1="219.80" x2="516.70" y2="219.80" stroke="#33bb33" stroke-width="0.8" stroke-opacity="0.6"/>
<circle cx="511.70" cy="219.80" r="1.80" fill="white" stroke="#33bb33" stroke-width="0.8"/>
<text x="521.80" y="222.40" font-family='"Liberation Serif", serif' font-size="7.95" font-weight="normal" text-anchor="start" fill="#222" stroke="#222" stroke-width="0.12">Pt.26</text>
<text transform="translate(10.51 326.00) scale(0.743 1)" font-family='"Liberation Sans", sans-serif' font-size="12.9" fill="#111" stroke="#111" stroke-width="0.32">E</text>
<text x="96.26" y="328.10" font-family='"Liberation Sans", sans-serif' font-size="8.428" font-weight="bold" text-anchor="start" fill="#111" stroke="#111" stroke-width="0.22">CAR19 proliferation</text>
<text x="34.14" y="442.88" font-family='"Liberation Sans", sans-serif' font-size="9.582" font-weight="bold" text-anchor="start" fill="#111" stroke="#111" stroke-width="0.22" transform="rotate(-90 34.13980311730927 442.88326497128793)">CD19 CAR-T cells/CD3(%)</text>
<text x="70.03" y="454.35" font-family='"Liberation Serif", serif' font-size="9.705" font-weight="bold" text-anchor="start" fill="#111" stroke="#111" stroke-width="0.22">Days after CAR-T cells infusion</text>
<line x1="64.00" y1="339.30" x2="64.00" y2="428.90" stroke="#262626" stroke-width="1.5"/>
<line x1="60.40" y1="428.90" x2="208.20" y2="428.90" stroke="#262626" stroke-width="1.5"/>
<line x1="60.40" y1="428.90" x2="64.00" y2="428.90" stroke="#262626" stroke-width="1.1"/>
<text x="59.10" y="431.25" font-family='"Liberation Sans", sans-serif' font-size="6.6" font-weight="bold" text-anchor="end" fill="#222" stroke="#222" stroke-width="0.22">0</text>
<line x1="60.40" y1="411.10" x2="64.00" y2="411.10" stroke="#262626" stroke-width="1.1"/>
<text x="59.10" y="413.45" font-family='"Liberation Sans", sans-serif' font-size="6.6" font-weight="bold" text-anchor="end" fill="#222" stroke="#222" stroke-width="0.22">5</text>
<line x1="60.40" y1="393.30" x2="64.00" y2="393.30" stroke="#262626" stroke-width="1.1"/>
<text x="59.10" y="395.65" font-family='"Liberation Sans", sans-serif' font-size="6.6" font-weight="bold" text-anchor="end" fill="#222" stroke="#222" stroke-width="0.22">10</text>
<line x1="60.40" y1="375.50" x2="64.00" y2="375.50" stroke="#262626" stroke-width="1.1"/>
<text x="59.10" y="377.85" font-family='"Liberation Sans", sans-serif' font-size="6.6" font-weight="bold" text-anchor="end" fill="#222" stroke="#222" stroke-width="0.22">15</text>
<line x1="60.40" y1="357.70" x2="64.00" y2="357.70" stroke="#262626" stroke-width="1.1"/>
<text x="59.10" y="360.05" font-family='"Liberation Sans", sans-serif' font-size="6.6" font-weight="bold" text-anchor="end" fill="#222" stroke="#222" stroke-width="0.22">20</text>
<line x1="60.40" y1="339.90" x2="64.00" y2="339.90" stroke="#262626" stroke-width="1.1"/>
<text x="59.10" y="342.25" font-family='"Liberation Sans", sans-serif' font-size="6.6" font-weight="bold" text-anchor="end" fill="#222" stroke="#222" stroke-width="0.22">25</text>
<line x1="72.90" y1="428.90" x2="72.90" y2="431.70" stroke="#262626" stroke-width="1.1"/>
<text x="72.90" y="438.80" font-family='"Liberation Sans", sans-serif' font-size="5.1" font-weight="bold" text-anchor="middle" fill="#444" stroke="#444" stroke-width="0.22">0</text>
<line x1="86.84" y1="428.90" x2="86.84" y2="431.70" stroke="#262626" stroke-width="1.1"/>
<text x="86.84" y="438.80" font-family='"Liberation Sans", sans-serif' font-size="5.1" font-weight="bold" text-anchor="middle" fill="#444" stroke="#444" stroke-width="0.22">4</text>
<line x1="100.78" y1="428.90" x2="100.78" y2="431.70" stroke="#262626" stroke-width="1.1"/>
<text x="100.78" y="438.80" font-family='"Liberation Sans", sans-serif' font-size="5.1" font-weight="bold" text-anchor="middle" fill="#444" stroke="#444" stroke-width="0.22">7</text>
<line x1="114.72" y1="428.90" x2="114.72" y2="431.70" stroke="#262626" stroke-width="1.1"/>
<text x="114.72" y="438.80" font-family='"Liberation Sans", sans-serif' font-size="5.1" font-weight="bold" text-anchor="middle" fill="#444" stroke="#444" stroke-width="0.22">11</text>
<line x1="128.66" y1="428.90" x2="128.66" y2="431.70" stroke="#262626" stroke-width="1.1"/>
<text x="128.66" y="438.80" font-family='"Liberation Sans", sans-serif' font-size="5.1" font-weight="bold" text-anchor="middle" fill="#444" stroke="#444" stroke-width="0.22">15</text>
<line x1="142.60" y1="428.90" x2="142.60" y2="431.70" stroke="#262626" stroke-width="1.1"/>
<text x="142.60" y="438.80" font-family='"Liberation Sans", sans-serif' font-size="5.1" font-weight="bold" text-anchor="middle" fill="#444" stroke="#444" stroke-width="0.22">20</text>
<line x1="156.54" y1="428.90" x2="156.54" y2="431.70" stroke="#262626" stroke-width="1.1"/>
<text x="156.54" y="438.80" font-family='"Liberation Sans", sans-serif' font-size="5.1" font-weight="bold" text-anchor="middle" fill="#444" stroke="#444" stroke-width="0.22">30</text>
<line x1="170.48" y1="428.90" x2="170.48" y2="431.70" stroke="#262626" stroke-width="1.1"/>
<text x="170.48" y="438.80" font-family='"Liberation Sans", sans-serif' font-size="5.1" font-weight="bold" text-anchor="middle" fill="#444" stroke="#444" stroke-width="0.22">35</text>
<line x1="184.42" y1="428.90" x2="184.42" y2="431.70" stroke="#262626" stroke-width="1.1"/>
<text x="184.42" y="438.80" font-family='"Liberation Sans", sans-serif' font-size="5.1" font-weight="bold" text-anchor="middle" fill="#444" stroke="#444" stroke-width="0.22">45</text>
<line x1="198.36" y1="428.90" x2="198.36" y2="431.70" stroke="#262626" stroke-width="1.1"/>
<text x="198.36" y="438.80" font-family='"Liberation Sans", sans-serif' font-size="5.1" font-weight="bold" text-anchor="middle" fill="#444" stroke="#444" stroke-width="0.22">60</text>
<line x1="100.78" y1="377.64" x2="100.78" y2="418.22" stroke="#55d855" stroke-width="1.3" stroke-opacity="0.55"/>
<line x1="98.78" y1="377.64" x2="102.78" y2="377.64" stroke="#55d855" stroke-width="1.3" stroke-opacity="0.55"/>
<line x1="98.78" y1="418.22" x2="102.78" y2="418.22" stroke="#55d855" stroke-width="1.3" stroke-opacity="0.55"/>
<line x1="114.72" y1="365.18" x2="114.72" y2="403.98" stroke="#55d855" stroke-width="1.3" stroke-opacity="0.55"/>
<line x1="112.72" y1="365.18" x2="116.72" y2="365.18" stroke="#55d855" stroke-width="1.3" stroke-opacity="0.55"/>
<line x1="112.72" y1="403.98" x2="116.72" y2="403.98" stroke="#55d855" stroke-width="1.3" stroke-opacity="0.55"/>
<line x1="128.66" y1="360.55" x2="128.66" y2="403.98" stroke="#55d855" stroke-width="1.3" stroke-opacity="0.55"/>
<line x1="126.66" y1="360.55" x2="130.66" y2="360.55" stroke="#55d855" stroke-width="1.3" stroke-opacity="0.55"/>
<line x1="126.66" y1="403.98" x2="130.66" y2="403.98" stroke="#55d855" stroke-width="1.3" stroke-opacity="0.55"/>
<line x1="142.60" y1="414.66" x2="142.60" y2="421.78" stroke="#55d855" stroke-width="1.3" stroke-opacity="0.55"/>
<line x1="140.60" y1="414.66" x2="144.60" y2="414.66" stroke="#55d855" stroke-width="1.3" stroke-opacity="0.55"/>
<line x1="140.60" y1="421.78" x2="144.60" y2="421.78" stroke="#55d855" stroke-width="1.3" stroke-opacity="0.55"/>
<line x1="100.78" y1="377.64" x2="100.78" y2="406.12" stroke="#5a5acc" stroke-width="1.3" stroke-opacity="0.55"/>
<line x1="98.78" y1="377.64" x2="102.78" y2="377.64" stroke="#5a5acc" stroke-width="1.3" stroke-opacity="0.55"/>
<line x1="98.78" y1="406.12" x2="102.78" y2="406.12" stroke="#5a5acc" stroke-width="1.3" stroke-opacity="0.55"/>
<line x1="114.72" y1="385.82" x2="114.72" y2="402.91" stroke="#5a5acc" stroke-width="1.3" stroke-opacity="0.55"/>
<line x1="112.72" y1="385.82" x2="116.72" y2="385.82" stroke="#5a5acc" stroke-width="1.3" stroke-opacity="0.55"/>
<line x1="112.72" y1="402.91" x2="116.72" y2="402.91" stroke="#5a5acc" stroke-width="1.3" stroke-opacity="0.55"/>
<line x1="128.66" y1="371.23" x2="128.66" y2="404.34" stroke="#5a5acc" stroke-width="1.3" stroke-opacity="0.55"/>
<line x1="126.66" y1="371.23" x2="130.66" y2="371.23" stroke="#5a5acc" stroke-width="1.3" stroke-opacity="0.55"/>
<line x1="126.66" y1="404.34" x2="130.66" y2="404.34" stroke="#5a5acc" stroke-width="1.3" stroke-opacity="0.55"/>
<line x1="142.60" y1="376.57" x2="142.60" y2="423.56" stroke="#5a5acc" stroke-width="1.3" stroke-opacity="0.55"/>
<line x1="140.60" y1="376.57" x2="144.60" y2="376.57" stroke="#5a5acc" stroke-width="1.3" stroke-opacity="0.55"/>
<line x1="140.60" y1="423.56" x2="144.60" y2="423.56" stroke="#5a5acc" stroke-width="1.3" stroke-opacity="0.55"/>
<line x1="156.54" y1="418.22" x2="156.54" y2="425.34" stroke="#5a5acc" stroke-width="1.3" stroke-opacity="0.55"/>
<line x1="154.54" y1="418.22" x2="158.54" y2="418.22" stroke="#5a5acc" stroke-width="1.3" stroke-opacity="0.55"/>
<line x1="154.54" y1="425.34" x2="158.54" y2="425.34" stroke="#5a5acc" stroke-width="1.3" stroke-opacity="0.55"/>
<polyline points="72.90,428.90 86.84,427.48 100.78,391.88 114.72,394.37 128.66,387.96 142.60,400.06 156.54,421.07 170.48,426.05 184.42,423.56 198.36,427.83" fill="none" stroke="#1f1fd0" stroke-width="1.6" stroke-opacity="1" stroke-linejoin="round"/>
<polyline points="72.90,428.90 86.84,428.19 100.78,397.93 114.72,384.76 128.66,381.55 142.60,418.22 156.54,423.20 170.48,428.19 184.42,428.54 198.36,428.19" fill="none" stroke="#2ee82e" stroke-width="1.6" stroke-opacity="1" stroke-linejoin="round"/>
<rect x="70.80" y="426.80" width="4.20" height="4.20" fill="#1f1fd0"/>
<rect x="84.74" y="425.38" width="4.20" height="4.20" fill="#1f1fd0"/>
<rect x="98.68" y="389.78" width="4.20" height="4.20" fill="#1f1fd0"/>
<rect x="112.62" y="392.27" width="4.20" height="4.20" fill="#1f1fd0"/>
<rect x="126.56" y="385.86" width="4.20" height="4.20" fill="#1f1fd0"/>
<rect x="140.50" y="397.96" width="4.20" height="4.20" fill="#1f1fd0"/>
<rect x="154.44" y="418.97" width="4.20" height="4.20" fill="#1f1fd0"/>
<rect x="168.38" y="423.95" width="4.20" height="4.20" fill="#1f1fd0"/>
<rect x="182.32" y="421.46" width="4.20" height="4.20" fill="#1f1fd0"/>
<rect x="196.26" y="425.73" width="4.20" height="4.20" fill="#1f1fd0"/>
<circle cx="72.90" cy="428.90" r="2.20" fill="#2ee82e"/>
<circle cx="86.84" cy="428.19" r="2.20" fill="#2ee82e"/>
<circle cx="100.78" cy="397.93" r="2.20" fill="#2ee82e"/>
<circle cx="114.72" cy="384.76" r="2.20" fill="#2ee82e"/>
<circle cx="128.66" cy="381.55" r="2.20" fill="#2ee82e"/>
<circle cx="142.60" cy="418.22" r="2.20" fill="#2ee82e"/>
<circle cx="156.54" cy="423.20" r="2.20" fill="#2ee82e"/>
<circle cx="170.48" cy="428.19" r="2.20" fill="#2ee82e"/>
<circle cx="184.42" cy="428.54" r="2.20" fill="#2ee82e"/>
<circle cx="198.36" cy="428.19" r="2.20" fill="#2ee82e"/>
<line x1="181.30" y1="341.50" x2="190.90" y2="341.50" stroke="#2ee82e" stroke-width="1.4"/>
<circle cx="186.20" cy="341.50" r="1.90" fill="#2ee82e"/>
<text x="196.40" y="343.90" font-family='"Liberation Sans", sans-serif' font-size="7.2" font-weight="normal" text-anchor="start" fill="#333" stroke="#333" stroke-width="0.12">Murinized-CAR19</text>
<line x1="181.30" y1="351.80" x2="190.90" y2="351.80" stroke="#1f1fd0" stroke-width="1.4"/>
<rect x="184.30" y="349.90" width="3.80" height="3.80" fill="#1f1fd0"/>
<text x="196.40" y="354.20" font-family='"Liberation Sans", sans-serif' font-size="7.2" font-weight="normal" text-anchor="start" fill="#333" stroke="#333" stroke-width="0.12">Humanized-CAR19</text>
<text x="186.00" y="376.00" font-family='"Liberation Sans", sans-serif' font-size="7.3" font-weight="normal" text-anchor="start" fill="#333" stroke="#333" stroke-width="0.12">P=0.4993</text>
<text transform="translate(266.40 322.80) scale(0.747 1)" font-family='"Liberation Sans", sans-serif' font-size="12.9" fill="#111" stroke="#111" stroke-width="0.32">F</text>
<text x="356.67" y="330.50" font-family='"Liberation Sans", sans-serif' font-size="8.278" font-weight="bold" text-anchor="start" fill="#111" stroke="#111" stroke-width="0.22">CAR22 proliferation</text>
<text x="295.65" y="442.57" font-family='"Liberation Sans", sans-serif' font-size="9.344" font-weight="bold" text-anchor="start" fill="#111" stroke="#111" stroke-width="0.22" transform="rotate(-90 295.65439704675964 442.57374897456936)">CD22 CAR-T cells/CD3(%)</text>
<text x="331.13" y="454.25" font-family='"Liberation Serif", serif' font-size="9.505" font-weight="bold" text-anchor="start" fill="#111" stroke="#111" stroke-width="0.22">Days after CAR-T cells infusion</text>
<line x1="325.20" y1="340.65" x2="325.20" y2="429.00" stroke="#262626" stroke-width="1.5"/>
<line x1="321.60" y1="429.00" x2="466.70" y2="429.00" stroke="#262626" stroke-width="1.5"/>
<line x1="321.60" y1="429.00" x2="325.20" y2="429.00" stroke="#262626" stroke-width="1.1"/>
<text x="320.30" y="431.35" font-family='"Liberation Sans", sans-serif' font-size="6.6" font-weight="bold" text-anchor="end" fill="#222" stroke="#222" stroke-width="0.22">0</text>
<line x1="321.60" y1="399.75" x2="325.20" y2="399.75" stroke="#262626" stroke-width="1.1"/>
<text x="320.30" y="402.10" font-family='"Liberation Sans", sans-serif' font-size="6.6" font-weight="bold" text-anchor="end" fill="#222" stroke="#222" stroke-width="0.22">10</text>
<line x1="321.60" y1="370.50" x2="325.20" y2="370.50" stroke="#262626" stroke-width="1.1"/>
<text x="320.30" y="372.85" font-family='"Liberation Sans", sans-serif' font-size="6.6" font-weight="bold" text-anchor="end" fill="#222" stroke="#222" stroke-width="0.22">20</text>
<line x1="321.60" y1="341.25" x2="325.20" y2="341.25" stroke="#262626" stroke-width="1.1"/>
<text x="320.30" y="343.60" font-family='"Liberation Sans", sans-serif' font-size="6.6" font-weight="bold" text-anchor="end" fill="#222" stroke="#222" stroke-width="0.22">30</text>
<line x1="333.50" y1="429.00" x2="333.50" y2="431.80" stroke="#262626" stroke-width="1.1"/>
<text x="333.50" y="438.90" font-family='"Liberation Sans", sans-serif' font-size="5.1" font-weight="bold" text-anchor="middle" fill="#444" stroke="#444" stroke-width="0.22">0</text>
<line x1="347.25" y1="429.00" x2="347.25" y2="431.80" stroke="#262626" stroke-width="1.1"/>
<text x="347.25" y="438.90" font-family='"Liberation Sans", sans-serif' font-size="5.1" font-weight="bold" text-anchor="middle" fill="#444" stroke="#444" stroke-width="0.22">4</text>
<line x1="361.00" y1="429.00" x2="361.00" y2="431.80" stroke="#262626" stroke-width="1.1"/>
<text x="361.00" y="438.90" font-family='"Liberation Sans", sans-serif' font-size="5.1" font-weight="bold" text-anchor="middle" fill="#444" stroke="#444" stroke-width="0.22">7</text>
<line x1="374.75" y1="429.00" x2="374.75" y2="431.80" stroke="#262626" stroke-width="1.1"/>
<text x="374.75" y="438.90" font-family='"Liberation Sans", sans-serif' font-size="5.1" font-weight="bold" text-anchor="middle" fill="#444" stroke="#444" stroke-width="0.22">11</text>
<line x1="388.50" y1="429.00" x2="388.50" y2="431.80" stroke="#262626" stroke-width="1.1"/>
<text x="388.50" y="438.90" font-family='"Liberation Sans", sans-serif' font-size="5.1" font-weight="bold" text-anchor="middle" fill="#444" stroke="#444" stroke-width="0.22">15</text>
<line x1="402.25" y1="429.00" x2="402.25" y2="431.80" stroke="#262626" stroke-width="1.1"/>
<text x="402.25" y="438.90" font-family='"Liberation Sans", sans-serif' font-size="5.1" font-weight="bold" text-anchor="middle" fill="#444" stroke="#444" stroke-width="0.22">20</text>
<line x1="416.00" y1="429.00" x2="416.00" y2="431.80" stroke="#262626" stroke-width="1.1"/>
<text x="416.00" y="438.90" font-family='"Liberation Sans", sans-serif' font-size="5.1" font-weight="bold" text-anchor="middle" fill="#444" stroke="#444" stroke-width="0.22">30</text>
<line x1="429.75" y1="429.00" x2="429.75" y2="431.80" stroke="#262626" stroke-width="1.1"/>
<text x="429.75" y="438.90" font-family='"Liberation Sans", sans-serif' font-size="5.1" font-weight="bold" text-anchor="middle" fill="#444" stroke="#444" stroke-width="0.22">35</text>
<line x1="443.50" y1="429.00" x2="443.50" y2="431.80" stroke="#262626" stroke-width="1.1"/>
<text x="443.50" y="438.90" font-family='"Liberation Sans", sans-serif' font-size="5.1" font-weight="bold" text-anchor="middle" fill="#444" stroke="#444" stroke-width="0.22">45</text>
<line x1="457.25" y1="429.00" x2="457.25" y2="431.80" stroke="#262626" stroke-width="1.1"/>
<text x="457.25" y="438.90" font-family='"Liberation Sans", sans-serif' font-size="5.1" font-weight="bold" text-anchor="middle" fill="#444" stroke="#444" stroke-width="0.22">60</text>
<line x1="361.00" y1="418.76" x2="361.00" y2="426.07" stroke="#55d855" stroke-width="1.3" stroke-opacity="0.55"/>
<line x1="359.00" y1="418.76" x2="363.00" y2="418.76" stroke="#55d855" stroke-width="1.3" stroke-opacity="0.55"/>
<line x1="359.00" y1="426.07" x2="363.00" y2="426.07" stroke="#55d855" stroke-width="1.3" stroke-opacity="0.55"/>
<line x1="374.75" y1="387.47" x2="374.75" y2="414.67" stroke="#55d855" stroke-width="1.3" stroke-opacity="0.55"/>
<line x1="372.75" y1="387.47" x2="376.75" y2="387.47" stroke="#55d855" stroke-width="1.3" stroke-opacity="0.55"/>
<line x1="372.75" y1="414.67" x2="376.75" y2="414.67" stroke="#55d855" stroke-width="1.3" stroke-opacity="0.55"/>
<line x1="388.50" y1="374.01" x2="388.50" y2="409.11" stroke="#55d855" stroke-width="1.3" stroke-opacity="0.55"/>
<line x1="386.50" y1="374.01" x2="390.50" y2="374.01" stroke="#55d855" stroke-width="1.3" stroke-opacity="0.55"/>
<line x1="386.50" y1="409.11" x2="390.50" y2="409.11" stroke="#55d855" stroke-width="1.3" stroke-opacity="0.55"/>
<line x1="402.25" y1="374.01" x2="402.25" y2="420.23" stroke="#55d855" stroke-width="1.3" stroke-opacity="0.55"/>
<line x1="400.25" y1="374.01" x2="404.25" y2="374.01" stroke="#55d855" stroke-width="1.3" stroke-opacity="0.55"/>
<line x1="400.25" y1="420.23" x2="404.25" y2="420.23" stroke="#55d855" stroke-width="1.3" stroke-opacity="0.55"/>
<line x1="416.00" y1="398.58" x2="416.00" y2="427.83" stroke="#55d855" stroke-width="1.3" stroke-opacity="0.55"/>
<line x1="414.00" y1="398.58" x2="418.00" y2="398.58" stroke="#55d855" stroke-width="1.3" stroke-opacity="0.55"/>
<line x1="414.00" y1="427.83" x2="418.00" y2="427.83" stroke="#55d855" stroke-width="1.3" stroke-opacity="0.55"/>
<line x1="374.75" y1="360.85" x2="374.75" y2="400.04" stroke="#5a5acc" stroke-width="1.3" stroke-opacity="0.55"/>
<line x1="372.75" y1="360.85" x2="376.75" y2="360.85" stroke="#5a5acc" stroke-width="1.3" stroke-opacity="0.55"/>
<line x1="372.75" y1="400.04" x2="376.75" y2="400.04" stroke="#5a5acc" stroke-width="1.3" stroke-opacity="0.55"/>
<line x1="388.50" y1="345.35" x2="388.50" y2="396.82" stroke="#5a5acc" stroke-width="1.3" stroke-opacity="0.55"/>
<line x1="386.50" y1="345.35" x2="390.50" y2="345.35" stroke="#5a5acc" stroke-width="1.3" stroke-opacity="0.55"/>
<line x1="386.50" y1="396.82" x2="390.50" y2="396.82" stroke="#5a5acc" stroke-width="1.3" stroke-opacity="0.55"/>
<line x1="402.25" y1="368.16" x2="402.25" y2="417.01" stroke="#5a5acc" stroke-width="1.3" stroke-opacity="0.55"/>
<line x1="400.25" y1="368.16" x2="404.25" y2="368.16" stroke="#5a5acc" stroke-width="1.3" stroke-opacity="0.55"/>
<line x1="400.25" y1="417.01" x2="404.25" y2="417.01" stroke="#5a5acc" stroke-width="1.3" stroke-opacity="0.55"/>
<line x1="416.00" y1="400.33" x2="416.00" y2="426.66" stroke="#5a5acc" stroke-width="1.3" stroke-opacity="0.55"/>
<line x1="414.00" y1="400.33" x2="418.00" y2="400.33" stroke="#5a5acc" stroke-width="1.3" stroke-opacity="0.55"/>
<line x1="414.00" y1="426.66" x2="418.00" y2="426.66" stroke="#5a5acc" stroke-width="1.3" stroke-opacity="0.55"/>
<line x1="429.75" y1="369.33" x2="429.75" y2="429.00" stroke="#5a5acc" stroke-width="1.3" stroke-opacity="0.55"/>
<line x1="427.75" y1="369.33" x2="431.75" y2="369.33" stroke="#5a5acc" stroke-width="1.3" stroke-opacity="0.55"/>
<line x1="427.75" y1="429.00" x2="431.75" y2="429.00" stroke="#5a5acc" stroke-width="1.3" stroke-opacity="0.55"/>
<line x1="443.50" y1="402.09" x2="443.50" y2="429.00" stroke="#5a5acc" stroke-width="1.3" stroke-opacity="0.55"/>
<line x1="441.50" y1="402.09" x2="445.50" y2="402.09" stroke="#5a5acc" stroke-width="1.3" stroke-opacity="0.55"/>
<line x1="441.50" y1="429.00" x2="445.50" y2="429.00" stroke="#5a5acc" stroke-width="1.3" stroke-opacity="0.55"/>
<polyline points="333.50,429.00 347.25,428.12 361.00,423.74 374.75,380.44 388.50,371.08 402.25,392.73 416.00,413.50 429.75,399.46 443.50,415.84 457.25,429.00" fill="none" stroke="#1f1fd0" stroke-width="1.6" stroke-opacity="1" stroke-linejoin="round"/>
<polyline points="333.50,429.00 347.25,428.12 361.00,421.69 374.75,401.21 388.50,392.44 402.25,397.41 416.00,413.20 429.75,349.73 443.50,429.00 457.25,429.00" fill="none" stroke="#2ee82e" stroke-width="1.6" stroke-opacity="1" stroke-linejoin="round"/>
<rect x="331.40" y="426.90" width="4.20" height="4.20" fill="#1f1fd0"/>
<rect x="345.15" y="426.02" width="4.20" height="4.20" fill="#1f1fd0"/>
<rect x="358.90" y="421.63" width="4.20" height="4.20" fill="#1f1fd0"/>
<rect x="372.65" y="378.34" width="4.20" height="4.20" fill="#1f1fd0"/>
<rect x="386.40" y="368.98" width="4.20" height="4.20" fill="#1f1fd0"/>
<rect x="400.15" y="390.63" width="4.20" height="4.20" fill="#1f1fd0"/>
<rect x="413.90" y="411.40" width="4.20" height="4.20" fill="#1f1fd0"/>
<rect x="427.65" y="397.36" width="4.20" height="4.20" fill="#1f1fd0"/>
<rect x="441.40" y="413.74" width="4.20" height="4.20" fill="#1f1fd0"/>
<rect x="455.15" y="426.90" width="4.20" height="4.20" fill="#1f1fd0"/>
<circle cx="333.50" cy="429.00" r="2.20" fill="#2ee82e"/>
<circle cx="347.25" cy="428.12" r="2.20" fill="#2ee82e"/>
<circle cx="361.00" cy="421.69" r="2.20" fill="#2ee82e"/>
<circle cx="374.75" cy="401.21" r="2.20" fill="#2ee82e"/>
<circle cx="388.50" cy="392.44" r="2.20" fill="#2ee82e"/>
<circle cx="402.25" cy="397.41" r="2.20" fill="#2ee82e"/>
<circle cx="416.00" cy="413.20" r="2.20" fill="#2ee82e"/>
<circle cx="429.75" cy="349.73" r="2.20" fill="#2ee82e"/>
<circle cx="443.50" cy="429.00" r="2.20" fill="#2ee82e"/>
<circle cx="457.25" cy="429.00" r="2.20" fill="#2ee82e"/>
<line x1="440.90" y1="343.30" x2="450.00" y2="343.30" stroke="#2ee82e" stroke-width="1.4"/>
<circle cx="445.50" cy="343.30" r="1.90" fill="#2ee82e"/>
<text x="455.10" y="345.70" font-family='"Liberation Sans", sans-serif' font-size="7.05" font-weight="normal" text-anchor="start" fill="#333" stroke="#333" stroke-width="0.12">Murinized-CAR22</text>
<line x1="440.90" y1="353.10" x2="450.00" y2="353.10" stroke="#1f1fd0" stroke-width="1.4"/>
<rect x="443.60" y="351.20" width="3.80" height="3.80" fill="#1f1fd0"/>
<text x="455.10" y="355.50" font-family='"Liberation Sans", sans-serif' font-size="7.05" font-weight="normal" text-anchor="start" fill="#333" stroke="#333" stroke-width="0.12">Humanized-CAR22</text>
<text x="450.40" y="374.50" font-family='"Liberation Sans", sans-serif' font-size="7.3" font-weight="normal" text-anchor="start" fill="#333" stroke="#333" stroke-width="0.12">P=0.8664</text>
</svg>
</body></html>
